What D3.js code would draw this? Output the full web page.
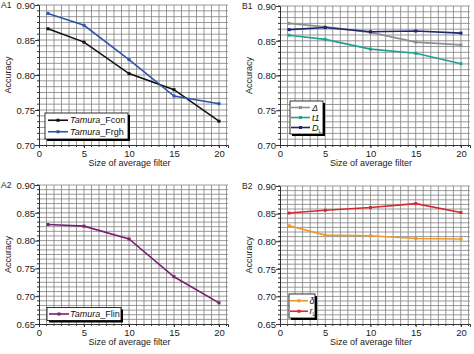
<!DOCTYPE html>
<html>
<head>
<meta charset="utf-8">
<script src="https://cdn.jsdelivr.net/npm/d3@7"></script>
<style>
  body { margin: 0; background: #fff; }
  svg { font-family: "Liberation Sans", Arial, sans-serif; }
</style>
</head>
<body>
<div id="chart"></div>
<script>
// data
const filterSizes = [1, 5, 10, 15, 20];
const xTicks = [0, 5, 10, 15, 20];

const tamuraFcon = [0.866, 0.847, 0.802, 0.779, 0.734];
const tamuraFrgh = [0.888, 0.871, 0.822, 0.770, 0.759];
const tamuraFlin = [0.829, 0.826, 0.803, 0.735, 0.688];

const deltaUpper = [0.875, 0.870, 0.862, 0.848, 0.844];
const t1 = [0.858, 0.852, 0.838, 0.832, 0.817];
const dL = [0.866, 0.869, 0.863, 0.864, 0.861];

const deltaLower = [0.828, 0.811, 0.810, 0.805, 0.804];
const rL = [0.851, 0.856, 0.861, 0.868, 0.852];

const yTicksTop = [0.70, 0.75, 0.80, 0.85, 0.90];
const yTicksBottom = [0.65, 0.70, 0.75, 0.80, 0.85, 0.90];

const width = 474, height = 354;

const svg = d3.select('#chart')
  .append('svg')
  .attr('width', width)
  .attr('height', height);

const panels = [
  {
    tag: 'A1', left: 39, top: 5, right: 228, bottom: 145, yDomain: [0.70, 0.90], yTicks: yTicksTop,
    series: [
      { name: [['Tamura', 'i'], ['_Fcon', '']], values: tamuraFcon, color: '#111111' },
      { name: [['Tamura', 'i'], ['_Frgh', '']], values: tamuraFrgh, color: '#2f55aa' }
    ],
    legend: { x: 45, y: 113, w: 83, rowH: 11.5, lx1: 48, lx2: 68, tx: 70, fs: 9 }
  },
  {
    tag: 'B1', left: 280, top: 6, right: 470, bottom: 145, yDomain: [0.70, 0.90], yTicks: yTicksTop,
    series: [
      { name: [['\u0394', 'i']], values: deltaUpper, color: '#8f8f8f' },
      { name: [['t1', 'i']], values: t1, color: '#24a08e' },
      { name: [['D', 'i'], ['L', 'sub']], values: dL, color: '#1f2370' }
    ],
    legend: { x: 290, y: 101, w: 33, rowH: 10, lx1: 291, lx2: 310, tx: 312, fs: 9 }
  },
  {
    tag: 'A2', left: 39, top: 185, right: 228, bottom: 324, yDomain: [0.65, 0.90], yTicks: yTicksBottom,
    series: [
      { name: [['Tamura', 'i'], ['_Flin', '']], values: tamuraFlin, color: '#7a1f72' }
    ],
    legend: { x: 47, y: 307.5, w: 74, rowH: 10, lx1: 49, lx2: 69, tx: 70, fs: 9 }
  },
  {
    tag: 'B2', left: 280, top: 186, right: 470, bottom: 324, yDomain: [0.65, 0.90], yTicks: yTicksBottom,
    series: [
      { name: [['\u03B4', 'i']], values: deltaLower, color: '#e89a2c' },
      { name: [['r', 'i'], ['L', 'sub']], values: rL, color: '#d42a2e' }
    ],
    legend: { x: 289, y: 294, w: 26, rowH: 10.5, lx1: 290, lx2: 308, tx: 309.5, fs: 9 }
  }
];

panels.forEach(drawPanel);

function drawPanel(p) {
  const x = d3.scaleLinear().domain([0, 21]).range([p.left, p.right]);
  const y = d3.scaleLinear().domain(p.yDomain).range([p.bottom, p.top]);

  const g = svg.append('g');

  // minor grid: 6 subdivisions per major step on both axes
  const xMinor = d3.range(0, 21, 5 / 6).slice(1);
  const yStep = 0.05 / 6;
  const nY = Math.round((p.yDomain[1] - p.yDomain[0]) / yStep);
  const yMinor = d3.range(1, nY + 1).map(i => p.yDomain[0] + i * yStep);

  g.append('g').selectAll('line')
    .data(xMinor)
    .enter()
    .append('line')
    .attr('x1', d => x(d)).attr('x2', d => x(d))
    .attr('y1', p.top).attr('y2', p.bottom)
    .attr('stroke', '#808080')
    .attr('stroke-width', 0.8);

  g.append('g').selectAll('line')
    .data(yMinor)
    .enter()
    .append('line')
    .attr('x1', p.left).attr('x2', p.right)
    .attr('y1', d => y(d)).attr('y2', d => y(d))
    .attr('stroke', '#808080')
    .attr('stroke-width', 0.8);

  // axes
  const xAxis = d3.axisBottom(x).tickValues(xTicks).tickSize(3).tickFormat(d3.format('d'));
  const yAxis = d3.axisLeft(y).tickValues(p.yTicks).tickSize(4).tickFormat(d3.format('.2f'));

  const gx = g.append('g')
    .attr('transform', `translate(0,${p.bottom})`)
    .call(xAxis);
  const gy = g.append('g')
    .attr('transform', `translate(${p.left},0)`)
    .call(yAxis);

  // minor ticks
  gx.selectAll('.minor')
    .data(xMinor)
    .enter()
    .append('line')
    .attr('x1', d => x(d)).attr('x2', d => x(d))
    .attr('y1', 0).attr('y2', 2)
    .attr('stroke', '#333');
  gy.selectAll('.minor')
    .data(yMinor)
    .enter()
    .append('line')
    .attr('x1', -2).attr('x2', 0)
    .attr('y1', d => y(d)).attr('y2', d => y(d))
    .attr('stroke', '#333');

  [gx, gy].forEach(a => {
    a.select('.domain').attr('stroke', '#333');
    a.selectAll('.tick line').attr('stroke', '#333');
    a.selectAll('.tick text')
      .attr('fill', '#222')
      .style('font-size', '9.5px');
  });
  gx.selectAll('.tick text').attr('y', 5).attr('dy', '0.75em');
  gy.selectAll('.tick text').attr('x', -4).attr('dy', '0.35em');

  // axis titles
  g.append('text')
    .attr('x', (p.left + p.right) / 2 - 4)
    .attr('y', p.bottom + 21)
    .attr('text-anchor', 'middle')
    .style('font-size', '9px')
    .attr('fill', '#222')
    .text('Size of average filter');

  g.append('text')
    .attr('transform', `translate(${p.left - 28},${(p.top + p.bottom) / 2}) rotate(-90)`)
    .attr('text-anchor', 'middle')
    .style('font-size', '9px')
    .attr('fill', '#222')
    .text('Accuracy');

  g.append('text')
    .attr('x', p.left - 38)
    .attr('y', p.top + 3)
    .style('font-size', '8.5px')
    .attr('fill', '#222')
    .text(p.tag);

  // series
  const line = d3.line()
    .x((d, i) => x(filterSizes[i]))
    .y(d => y(d));

  p.series.forEach(s => {
    g.append('path')
      .datum(s.values)
      .attr('d', line)
      .attr('fill', 'none')
      .attr('stroke', s.color)
      .attr('stroke-width', 1.6);

    g.selectAll(null)
      .data(s.values)
      .enter()
      .append('rect')
      .attr('x', (d, i) => x(filterSizes[i]) - 1.5)
      .attr('y', d => y(d) - 1.5)
      .attr('width', 3)
      .attr('height', 3)
      .attr('fill', s.color);
  });

  buildLegend(g, p);
}

function buildLegend(g, p) {
  const L = p.legend;
  const h = p.series.length * L.rowH + 3;

  // shadow then box
  g.append('rect')
    .attr('x', L.x + 2).attr('y', L.y + 2)
    .attr('width', L.w).attr('height', h)
    .attr('fill', '#000');
  g.append('rect')
    .attr('x', L.x).attr('y', L.y)
    .attr('width', L.w).attr('height', h)
    .attr('fill', '#fff')
    .attr('stroke', '#000')
    .attr('stroke-width', 0.8);

  p.series.forEach((s, i) => {
    const cy = L.y + 1.5 + L.rowH * (i + 0.5);
    g.append('line')
      .attr('x1', L.lx1).attr('x2', L.lx2)
      .attr('y1', cy).attr('y2', cy)
      .attr('stroke', s.color)
      .attr('stroke-width', 1.6);
    g.append('rect')
      .attr('x', (L.lx1 + L.lx2) / 2 - 1.5).attr('y', cy - 1.5)
      .attr('width', 3).attr('height', 3)
      .attr('fill', s.color);

    const t = g.append('text')
      .attr('x', L.tx)
      .attr('y', cy + 3.2)
      .style('font-size', L.fs + 'px')
      .attr('fill', '#111');
    s.name.forEach(([txt, kind]) => {
      const span = t.append('tspan').text(txt);
      if (kind === 'i') span.style('font-style', 'italic');
      if (kind === 'sub') span.style('font-size', '5px').attr('dy', '2');
    });
  });
}
</script>
</body>
</html>
